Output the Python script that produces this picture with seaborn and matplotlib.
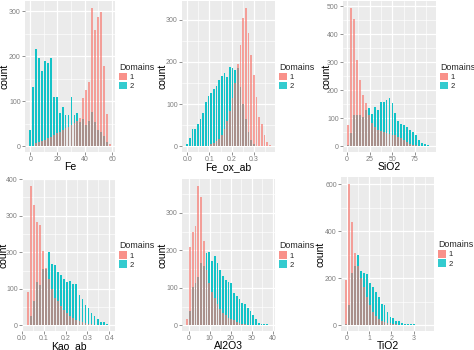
import numpy as np
import pandas as pd
import matplotlib
matplotlib.use("Agg")
import matplotlib.pyplot as plt
from matplotlib.patches import Patch
from matplotlib.ticker import MultipleLocator
import seaborn as sns

sns.set_theme(style="darkgrid")
plt.rcParams['font.family'] = ['Liberation Sans', 'DejaVu Sans']

# ---------------- data (bin start centre, bin width, counts) ----------------
fe_start, fe_width = 0.0, 2.16
fe_d1 = [0, 0, 8, 10, 12, 15, 18, 22, 26, 30, 33, 37, 40, 44, 48, 52, 56, 62, 107, 126, 143, 307, 259, 288, 298, 178, 72, 5]
fe_d2 = [37, 131, 217, 197, 168, 190, 184, 197, 110, 109, 74, 87, 70, 70, 110, 70, 75, 55, 60, 48, 57, 77, 55, 37, 33, 24, 10, 0]

feox_start, feox_width = 0.0, 0.012
feox_d1 = [0, 0, 0, 0, 0, 0, 0, 0, 0, 5, 8, 12, 18, 28, 42, 60, 85, 115, 150, 195, 240, 304, 328, 268, 217, 169, 117, 70, 52, 26, 10, 4]
feox_d2 = [5, 20, 42, 42, 54, 65, 80, 106, 119, 127, 135, 143, 157, 167, 175, 165, 189, 185, 180, 185, 140, 100, 65, 35, 15, 5, 2, 0, 0, 0, 0, 0]

sio2_start, sio2_width = 1.5, 3.25
sio2_d1 = [75, 494, 455, 308, 237, 183, 154, 112, 83, 70, 60, 55, 50, 48, 45, 42, 40, 35, 30, 22, 15, 10, 6, 4, 2, 1, 0, 0, 0]
sio2_d2 = [6, 47, 112, 112, 112, 104, 130, 136, 116, 142, 130, 160, 160, 165, 172, 154, 118, 92, 80, 77, 69, 59, 53, 41, 24, 14, 9, 5, 2]

kao_start, kao_width = 0.0277, 0.01385
kao_d1 = [92, 381, 330, 282, 275, 202, 158, 127, 99, 76, 67, 53, 42, 34, 27, 20, 16, 11, 8, 6, 4, 3, 2, 1, 1, 0, 0, 0]
kao_d2 = [2, 25, 67, 120, 110, 155, 153, 200, 168, 164, 145, 138, 127, 118, 122, 113, 113, 82, 71, 57, 48, 34, 27, 18, 8, 9, 5, 2]

al_start, al_width = -0.77, 1.31
al_d1 = [16, 209, 250, 264, 372, 342, 224, 149, 113, 88, 73, 56, 44, 34, 29, 20, 16, 14, 10, 7, 5, 3, 2, 1, 1, 0, 0, 0, 0, 0, 0]
al_d2 = [0, 38, 103, 113, 129, 166, 158, 193, 195, 171, 184, 166, 149, 131, 120, 117, 113, 87, 78, 71, 60, 56, 47, 38, 29, 18, 7, 5, 3, 3, 2]

ti_start, ti_width = -0.03, 0.1324
ti_d1 = [193, 600, 440, 307, 250, 200, 164, 121, 86, 57, 40, 29, 19, 14, 11, 8, 6, 4, 3, 2, 1, 1, 0, 0, 0, 0, 0, 0, 0]
ti_d2 = [7, 86, 221, 250, 300, 229, 221, 217, 179, 164, 143, 121, 89, 86, 57, 36, 33, 19, 17, 11, 7, 6, 4, 4, 3, 1, 1, 1, 1]

variables = ["Fe", "Fe_ox_ab", "SiO2", "Kao_ab", "Al2O3", "TiO2"]
x_ticks = [[0, 20, 40, 60], [0.0, 0.1, 0.2, 0.3], [0, 25, 50, 75],
           [0.0, 0.1, 0.2, 0.3, 0.4], [0, 10, 20, 30, 40], [0, 1, 2, 3]]
x_ticklabels = [["0", "20", "40", "60"], ["0.0", "0.1", "0.2", "0.3"], ["0", "25", "50", "75"],
                ["0.0", "0.1", "0.2", "0.3", "0.4"], ["0", "10", "20", "30", "40"], ["0", "1", "2", "3"]]
y_ticks = [[0, 100, 200, 300], [0, 100, 200, 300], [0, 100, 200, 300, 400, 500],
           [0, 100, 200, 300, 400], [0, 100, 200, 300], [0, 200, 400, 600]]
domains = ["1", "2"]
colors = {"1": "#F8766D", "2": "#00BFC4"}

panels = [
    (fe_start, fe_width, fe_d1, fe_d2),
    (feox_start, feox_width, feox_d1, feox_d2),
    (sio2_start, sio2_width, sio2_d1, sio2_d2),
    (kao_start, kao_width, kao_d1, kao_d2),
    (al_start, al_width, al_d1, al_d2),
    (ti_start, ti_width, ti_d1, ti_d2),
]

# axes rectangles in pixels: left, right, top, bottom
W, H = 474, 350
rects = [(25, 115, 1, 152), (182, 275, 1, 152), (343, 436, 1, 152),
         (22, 115, 179, 331), (182, 275, 179, 331), (341, 434, 177, 331)]
ylabel_right = [9, 168, 331, 8, 167, 326]

fig = plt.figure(figsize=(W / 100, H / 100), dpi=100)
fig.patch.set_facecolor("white")

for i, ((start, width, d1, d2), var) in enumerate(zip(panels, variables)):
    l, r, t, b = rects[i]
    ax = fig.add_axes([l / W, 1 - b / H, (r - l) / W, (b - t) / H])
    ax.set_facecolor("#EBEBEB")
    n = len(d1)
    centres = start + width * np.arange(n)
    edges = [float(c - width / 2) for c in centres] + [float(centres[-1] + width / 2)]
    df = pd.DataFrame({
        var: np.concatenate([centres, centres]),
        "count": np.concatenate([d1, d2]).astype(float),
        "Domains": [domains[0]] * n + [domains[1]] * n,
    })
    # domain 2 first (underneath), domain 1 on top
    sns.histplot(data=df[df["Domains"] == "2"], x=var, weights="count", bins=edges,
                 shrink=0.62, color=colors["2"], alpha=0.92, edgecolor="none",
                 linewidth=0, ax=ax)
    sns.histplot(data=df[df["Domains"] == "1"], x=var, weights="count", bins=edges,
                 shrink=0.62, color=colors["1"], alpha=0.66, edgecolor="none",
                 linewidth=0, ax=ax)
    ymax = max(max(d1), max(d2))
    ax.set_ylim(-0.04 * ymax, 1.05 * ymax)
    xr = edges[-1] - edges[0]
    ax.set_xlim(edges[0] - 0.045 * xr, edges[-1] + 0.045 * xr)
    ax.set_xticks(x_ticks[i])
    ax.set_xticklabels(x_ticklabels[i])
    ax.set_yticks(y_ticks[i])
    xs = x_ticks[i][1] - x_ticks[i][0]
    ys = y_ticks[i][1] - y_ticks[i][0]
    ax.xaxis.set_minor_locator(MultipleLocator(xs / 2))
    ax.yaxis.set_minor_locator(MultipleLocator(ys / 2))
    ax.grid(True, which="major", color="white", linewidth=0.9)
    ax.grid(True, which="minor", color="white", linewidth=0.45)
    ax.set_axisbelow(True)
    for s in ax.spines.values():
        s.set_visible(False)
    ax.tick_params(axis="both", which="major", labelsize=5, colors="#7F7F7F",
                   length=2, width=0.6, pad=1.0, bottom=True, left=True)
    ax.tick_params(axis="both", which="minor", length=0)
    ax.set_xlabel(var, fontsize=7.5, color="black", labelpad=-0.5)
    ax.set_ylabel("count", fontsize=7.5, color="black")
    ax.yaxis.set_label_coords((ylabel_right[i] - l) / (r - l), 0.5)
    handles = [Patch(facecolor=colors["1"], alpha=0.8, edgecolor="none"),
               Patch(facecolor=colors["2"], alpha=0.8, edgecolor="none")]
    leg = ax.legend(handles, domains, title="Domains", loc="center left",
                    bbox_to_anchor=(1.0, 0.5), frameon=False, fontsize=5.5,
                    title_fontsize=6.4, handlelength=1.1, handleheight=1.1,
                    handletextpad=0.3, labelspacing=0.1, borderpad=0.2,
                    borderaxespad=0.3, alignment="left")

fig.savefig("out.png", dpi=100)
